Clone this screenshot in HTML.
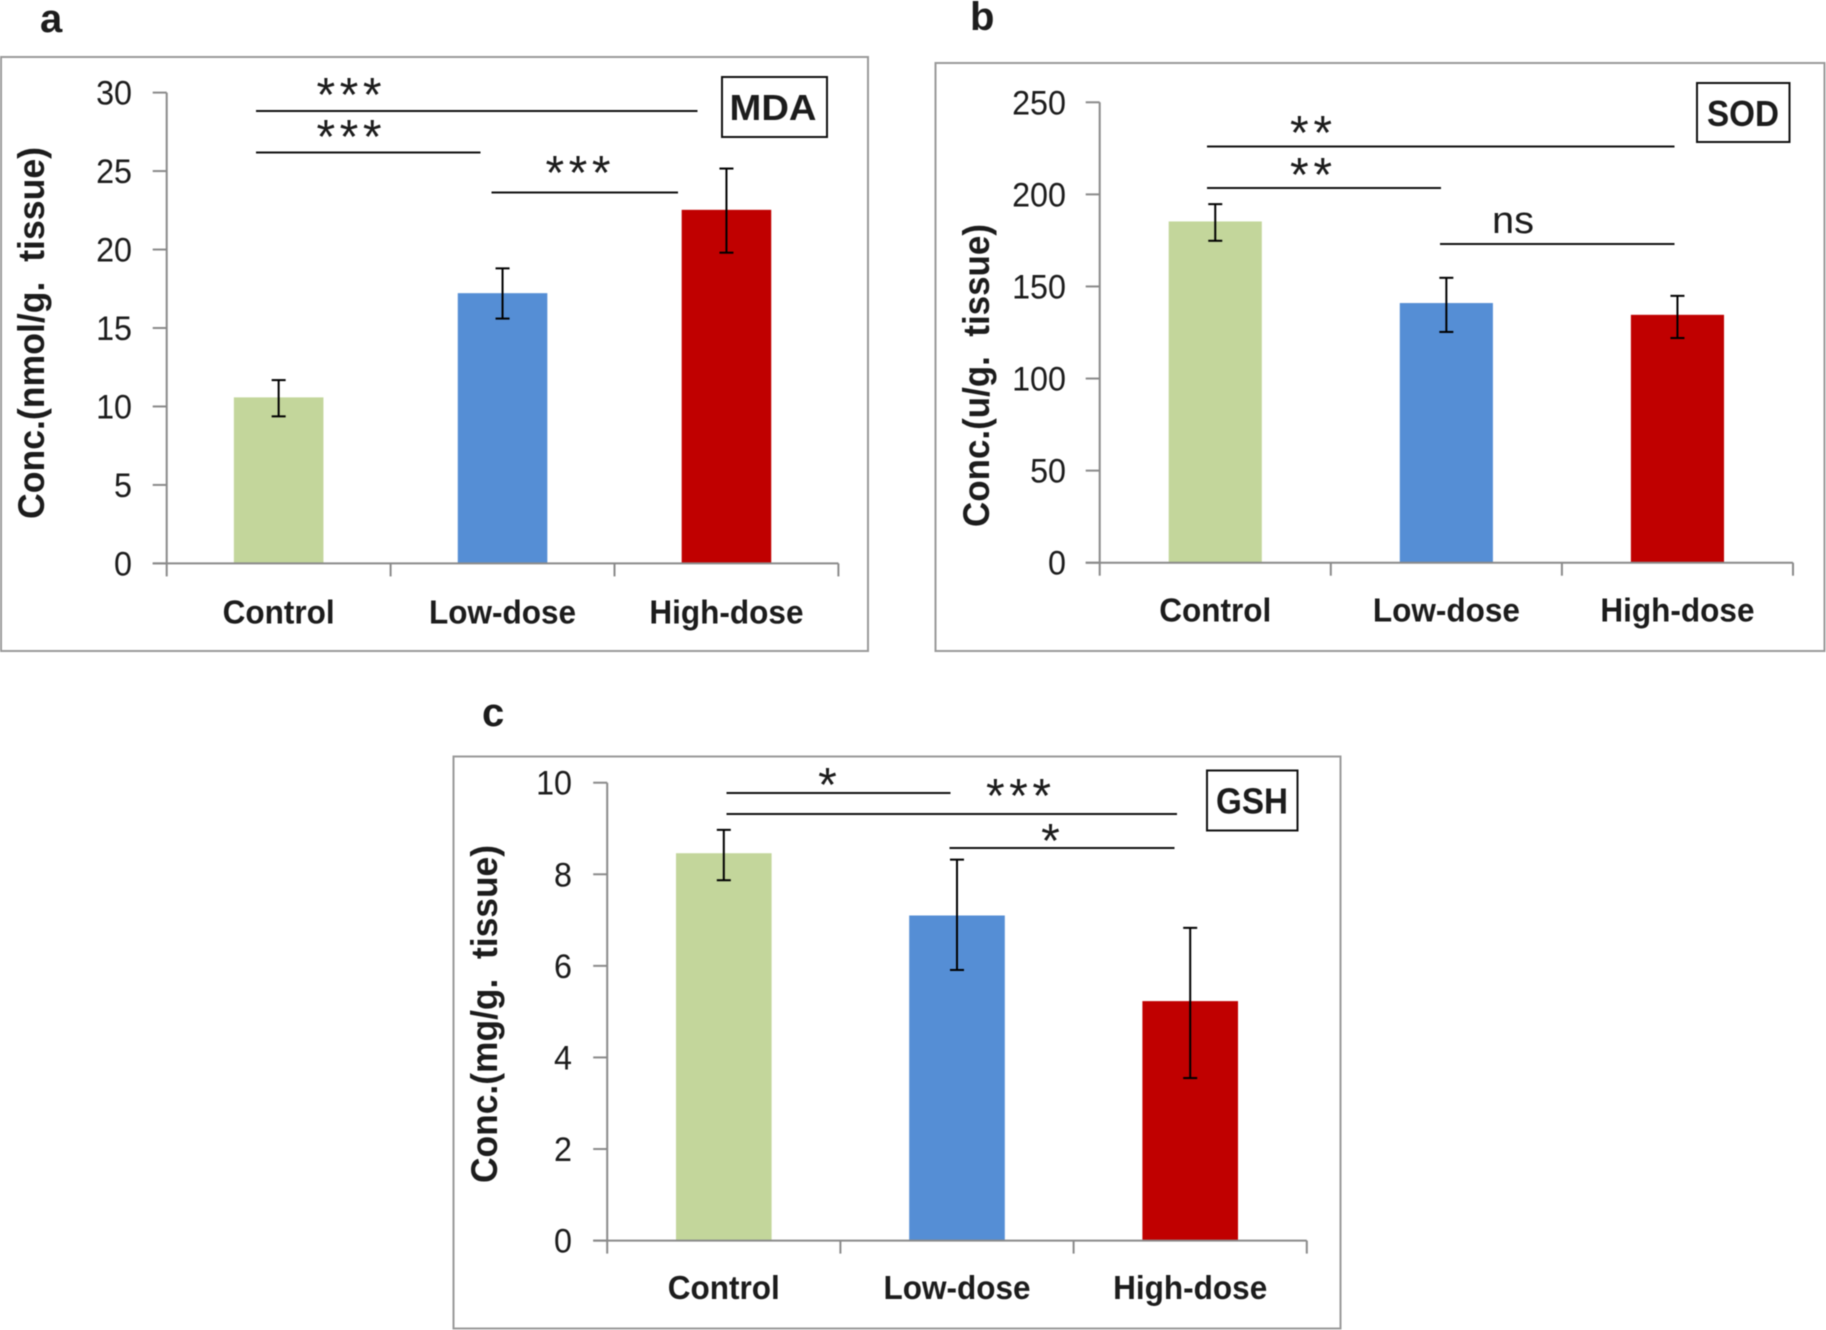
<!DOCTYPE html>
<html lang="en">
<head>
<meta charset="utf-8">
<title>MDA, SOD and GSH concentration bar charts</title>
<style>
html,body{margin:0;padding:0;background:#fff;}
svg{display:block;font-family:"Liberation Sans",sans-serif;filter:blur(0.5px);}
text{fill:#1c1c1c;white-space:pre;}
.frame{fill:#fff;stroke:#9a9a9a;stroke-width:2;}
.title{font-weight:bold;font-size:37px;}
.letter{font-weight:bold;font-size:40px;}
.boxr{fill:#fff;stroke:#111;stroke-width:2;}
.boxt{font-weight:bold;font-size:36px;text-anchor:middle;}
.sig{stroke:#111;stroke-width:2;}
.star{font-size:48px;text-anchor:middle;}
.ns{font-size:38px;text-anchor:middle;}
</style>
</head>
<body>
<svg id="figure" xmlns="http://www.w3.org/2000/svg" width="1826" height="1330" viewBox="0 0 1826 1330">
  <rect x="0" y="0" width="1826" height="1330" fill="#fff"/>

  <g id="panel-a">
    <text class="letter" x="40" y="32">a</text>
    <rect class="frame" x="1" y="57" width="867" height="594"/>
    <text class="title" transform="translate(44,519) rotate(-90)" textLength="372" lengthAdjust="spacingAndGlyphs">Conc.(nmol/g.  tissue)</text>
    <rect class="boxr" x="722" y="77" width="105" height="60"/>
    <text class="boxt" x="773" y="120" textLength="87" lengthAdjust="spacingAndGlyphs">MDA</text>
    <line class="sig" x1="256" y1="111" x2="697.5" y2="111"/>
    <line class="sig" x1="256" y1="152.5" x2="480.5" y2="152.5"/>
    <line class="sig" x1="491.5" y1="192.5" x2="678" y2="192.5"/>
    <text class="star" x="349" y="111" textLength="65">***</text>
    <text class="star" x="349" y="153" textLength="65">***</text>
    <text class="star" x="578" y="189" textLength="65">***</text>
  </g>

  <g id="panel-b">
    <text class="letter" x="970" y="30">b</text>
    <rect class="frame" x="935.5" y="63" width="889" height="588"/>
    <text class="title" transform="translate(989,527) rotate(-90)" textLength="303" lengthAdjust="spacingAndGlyphs">Conc.(u/g.  tissue)</text>
    <rect class="boxr" x="1697" y="83" width="92.5" height="59"/>
    <text class="boxt" x="1743" y="126" textLength="72" lengthAdjust="spacingAndGlyphs">SOD</text>
    <line class="sig" x1="1207" y1="146.5" x2="1674.5" y2="146.5"/>
    <line class="sig" x1="1207" y1="188" x2="1441" y2="188"/>
    <line class="sig" x1="1440" y1="244" x2="1674.5" y2="244"/>
    <text class="star" x="1311" y="149" textLength="42">**</text>
    <text class="star" x="1311" y="191" textLength="42">**</text>
    <text class="ns" x="1513" y="233" textLength="42" lengthAdjust="spacingAndGlyphs">ns</text>
  </g>

  <g id="panel-c">
    <text class="letter" x="482" y="726">c</text>
    <rect class="frame" x="453.5" y="756.5" width="887" height="572"/>
    <text class="title" transform="translate(497,1183) rotate(-90)" textLength="338" lengthAdjust="spacingAndGlyphs">Conc.(mg/g.  tissue)</text>
    <rect class="boxr" x="1207" y="770.5" width="90.5" height="60"/>
    <text class="boxt" x="1252" y="813.5" textLength="72" lengthAdjust="spacingAndGlyphs">GSH</text>
    <line class="sig" x1="726.5" y1="793" x2="950.5" y2="793"/>
    <line class="sig" x1="726.5" y1="814" x2="1177" y2="814"/>
    <line class="sig" x1="949.5" y1="848" x2="1174.5" y2="848"/>
    <text class="star" x="827.5" y="801">*</text>
    <text class="star" x="1018.5" y="812" textLength="65">***</text>
    <text class="star" x="1050.5" y="857">*</text>
  </g>
</svg>

<script>
const categories = ['Control', 'Low-dose', 'High-dose'];
const barColors = ['#C3D69B', '#558ED5', '#C00000'];

const mdaTicks = [0, 5, 10, 15, 20, 25, 30];
const mdaValues = [10.58, 17.22, 22.53];
const mdaErrUp = [1.10, 1.58, 2.63];
const mdaErrDown = [1.21, 1.62, 2.73];

const sodTicks = [0, 50, 100, 150, 200, 250];
const sodValues = [185.3, 141.0, 134.6];
const sodErrUp = [9.4, 13.7, 10.3];
const sodErrDown = [10.5, 15.7, 12.6];

const gshTicks = [0, 2, 4, 6, 8, 10];
const gshValues = [8.46, 7.10, 5.23];
const gshErrUp = [0.51, 1.22, 1.60];
const gshErrDown = [0.59, 1.19, 1.68];

const SVG_NS = 'http://www.w3.org/2000/svg';

function makeLine(x1, y1, x2, y2, stroke, width) {
  const l = document.createElementNS(SVG_NS, 'line');
  l.setAttribute('x1', x1);
  l.setAttribute('y1', y1);
  l.setAttribute('x2', x2);
  l.setAttribute('y2', y2);
  l.setAttribute('stroke', stroke);
  l.setAttribute('stroke-width', width);
  return l;
}

function condense(label, factor) {
  const natural = label.getComputedTextLength();
  label.setAttribute('textLength', natural * factor);
  label.setAttribute('lengthAdjust', 'spacingAndGlyphs');
}

function drawChart(panelId, box, ticks, values, errUp, errDown) {
  const panel = document.getElementById(panelId);
  const root = document.createElementNS(SVG_NS, 'g');
  
  
  const firstSig = panel.querySelector('.sig');
  panel.insertBefore(root, firstSig);

  const axisColor = '#8a8a8a';
  const maxTick = ticks[ticks.length - 1];
  const yScale = function (v) { return box.bottom - (v / maxTick) * (box.bottom - box.top); };
  const band = (box.right - box.left) / categories.length;
  const xCenter = function (i) { return box.left + band * (i + 0.5); };
  const xEdge = function (i) { return box.left + band * i; };
  const barWidth = band * box.barFraction;

  categories.forEach(function (cat, i) {
    const bar = document.createElementNS(SVG_NS, 'rect');
    
    
    bar.setAttribute('x', xCenter(i) - barWidth / 2);
    bar.setAttribute('y', yScale(values[i]));
    bar.setAttribute('width', barWidth);
    bar.setAttribute('height', box.bottom - yScale(values[i]));
    bar.setAttribute('fill', barColors[i]);
    root.appendChild(bar);
  });

  const yAxis = makeLine(box.left, box.top, box.left, box.bottom, axisColor, 2);
  
  
  root.appendChild(yAxis);

  const xAxis = makeLine(box.left - 14, box.bottom, box.right, box.bottom, axisColor, 2);
  
  
  root.appendChild(xAxis);

  ticks.forEach(function (t) {
    const y = yScale(t);
    const mark = makeLine(box.left - 14, y, box.left, y, axisColor, 2);
    
    
    root.appendChild(mark);

    const label = document.createElementNS(SVG_NS, 'text');
    
    
    label.setAttribute('x', box.tickRight);
    label.setAttribute('y', y + 12);
    label.setAttribute('text-anchor', 'end');
    label.setAttribute('font-size', '34');
    label.textContent = String(t);
    root.appendChild(label);
    condense(label, 0.95);
  });

  for (let i = 0; i <= categories.length; i++) {
    const mark = makeLine(xEdge(i), box.bottom, xEdge(i), box.bottom + 13, axisColor, 2);
    
    
    root.appendChild(mark);
  }

  categories.forEach(function (cat, i) {
    const label = document.createElementNS(SVG_NS, 'text');
    
    
    label.setAttribute('x', xCenter(i));
    label.setAttribute('y', box.labelBaseline);
    label.setAttribute('text-anchor', 'middle');
    label.setAttribute('font-size', '33');
    label.setAttribute('font-weight', 'bold');
    label.textContent = cat;
    root.appendChild(label);
    condense(label, 0.955);
  });

  categories.forEach(function (cat, i) {
    const x = xCenter(i);
    const yTop = yScale(values[i] + errUp[i]);
    const yBottom = yScale(values[i] - errDown[i]);

    const stem = makeLine(x, yTop, x, yBottom, '#000', 2);
    
    
    root.appendChild(stem);

    const capTop = makeLine(x - 7, yTop, x + 7, yTop, '#000', 2);
    
    
    root.appendChild(capTop);

    const capBottom = makeLine(x - 7, yBottom, x + 7, yBottom, '#000', 2);
    
    
    root.appendChild(capBottom);
  });
}

drawChart('panel-a', { left: 166.7, right: 838.4, top: 92.6, bottom: 563.4, tickRight: 132, labelBaseline: 623.5, barFraction: 0.4 }, mdaTicks, mdaValues, mdaErrUp, mdaErrDown);
drawChart('panel-b', { left: 1099.7, right: 1793, top: 102.3, bottom: 562.7, tickRight: 1066, labelBaseline: 621.5, barFraction: 0.403 }, sodTicks, sodValues, sodErrUp, sodErrDown);
drawChart('panel-c', { left: 607.2, right: 1306.8, top: 782.7, bottom: 1240.6, tickRight: 572, labelBaseline: 1299, barFraction: 0.41 }, gshTicks, gshValues, gshErrUp, gshErrDown);
</script>
</body>
</html>
